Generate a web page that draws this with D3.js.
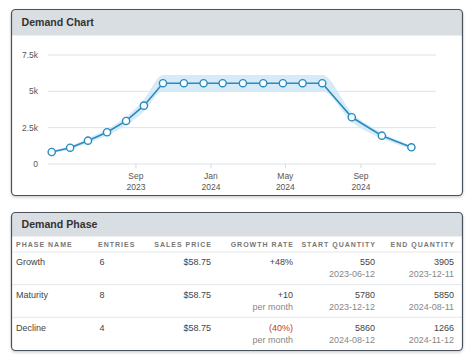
<!DOCTYPE html>
<html><head><meta charset="utf-8">
<script src="https://cdn.jsdelivr.net/npm/d3@7"></script>
<style>
html,body{margin:0;padding:0;background:#fff;}
svg{display:block;font-family:"Liberation Sans",Arial,Helvetica,sans-serif;}
</style></head>
<body>
<svg id="c" width="474" height="361"></svg>
<script>
// ---- Chart data ----
const pointDates = ["2023-04-17","2023-05-17","2023-06-15","2023-07-16","2023-08-16","2023-09-14",
  "2023-10-15","2023-11-18","2023-12-20","2024-01-20","2024-02-22","2024-03-26","2024-04-27","2024-05-29",
  "2024-06-30","2024-08-17","2024-10-05","2024-11-22"];
const pointValues = [826,1123,1605,2183,2961,4015,5560,5560,5560,5560,5560,5560,5560,5560,5560,3216,1949,1150];
const yTickValues = [0,2500,5000,7500];
const yTickLabels = ["0","2.5k","5k","7.5k"];
const xTickDates = ["2023-09-01","2024-01-01","2024-05-01","2024-09-01"];
const xTickMonths = ["Sep","Jan","May","Sep"];
const xTickYears = ["2023","2024","2024","2024"];
const xDomain = ["2023-04-11","2025-01-01"];

// ---- Table data ----
const tableHeaders = ["PHASE NAME","ENTRIES","SALES PRICE","GROWTH RATE","START QUANTITY","END QUANTITY"];
const phaseNames = ["Growth","Maturity","Decline"];
const phaseEntries = ["6","8","4"];
const salesPrices = ["$58.75","$58.75","$58.75"];
const growthRates = ["+48%","+10","(40%)"];
const growthUnits = ["","per month","per month"];
const startQuantities = ["550","5780","5860"];
const startDates = ["2023-06-12","2023-12-12","2024-08-12"];
const endQuantities = ["3905","5850","1266"];
const endDates = ["2023-12-11","2024-08-11","2024-11-12"];

const svg = d3.select("#c");
const parse = d3.timeParse("%Y-%m-%d");
const defs = svg.append("defs");
const f = defs.append("filter").attr("id","sh").attr("x","-5%").attr("y","-5%").attr("width","110%").attr("height","120%");
f.append("feDropShadow").attr("dx",0).attr("dy",1.5).attr("stdDeviation",1.5).attr("flood-color","#000").attr("flood-opacity",0.25);

function card(x,y,w,h,hh,title){
  const g = svg.append("g");
  g.append("rect").attr("x",x).attr("y",y).attr("width",w).attr("height",h).attr("rx",4)
    .attr("fill","#fff").attr("filter","url(#sh)");
  const cp = "cp"+y;
  defs.append("clipPath").attr("id",cp).append("rect").attr("x",x).attr("y",y).attr("width",w).attr("height",h).attr("rx",4);
  g.append("rect").attr("x",x).attr("y",y).attr("width",w).attr("height",hh).attr("fill","#d9dee3").attr("clip-path","url(#"+cp+")");
  g.append("text").attr("x",x+10).attr("y",y+hh/2+3.8).attr("font-size",10.6).attr("font-weight","bold").attr("fill","#333").text(title);
  return g;
}
function border(x,y,w,h){
  svg.append("rect").attr("x",x).attr("y",y).attr("width",w).attr("height",h).attr("rx",4)
    .attr("fill","none").attr("stroke","#4a525b").attr("stroke-width",1.2);
}

// ---- Card 1: chart ----
card(11.5,9.5,451,186,26,"Demand Chart");

const x = d3.scaleTime().domain(xDomain.map(parse)).range([48,436]);
const y = d3.scaleLinear().domain([0,7500]).range([164,55]);

const gy = svg.append("g");
yTickValues.forEach((v,i)=>{
  gy.append("line").attr("x1",48).attr("x2",436).attr("y1",y(v)).attr("y2",y(v)).attr("stroke","#dde3e9").attr("stroke-width",1);
  gy.append("text").attr("x",38).attr("y",y(v)+3).attr("text-anchor","end").attr("font-size",8.5).attr("fill","#555").text(yTickLabels[i]);
});
const gx = svg.append("g");
xTickDates.forEach((d,i)=>{
  const xx = x(parse(d));
  gx.append("line").attr("x1",xx).attr("x2",xx).attr("y1",164).attr("y2",168).attr("stroke","#d5dbe0");
  gx.append("text").attr("x",xx).attr("y",179).attr("text-anchor","middle").attr("font-size",8.5).attr("fill","#555").text(xTickMonths[i]);
  gx.append("text").attr("x",xx).attr("y",189.5).attr("text-anchor","middle").attr("font-size",8.5).attr("fill","#555").text(xTickYears[i]);
});

const pts = pointDates.map((d,i)=>({d:parse(d), v:pointValues[i]}));
const area = d3.area().x(p=>x(p.d)).y0(p=>y(p.v*0.9)).y1(p=>y(p.v*1.1)).curve(d3.curveMonotoneX);
svg.append("path").datum(pts).attr("d",area).attr("fill","#cfe7f6").attr("opacity",0.85);
const line = d3.line().x(p=>x(p.d)).y(p=>y(p.v));
svg.append("path").datum(pts).attr("d",line).attr("fill","none").attr("stroke","#2a8bbf").attr("stroke-width",1.6);
svg.selectAll("circle.pt").data(pts).enter().append("circle").attr("class","pt")
  .attr("cx",p=>x(p.d)).attr("cy",p=>y(p.v)).attr("r",3.6)
  .attr("fill","#fff").attr("stroke","#2a8bbf").attr("stroke-width",1.4);

border(11.5,9.5,451,186);

// ---- Card 2: table ----
const tx=11.5, ty=212.5, tw=451, th=138;
const t = card(tx,ty,tw,th,24,"Demand Phase");
const colX = [16,98,211,293,375,454];
const colAnchor = ["start","start","end","end","end","end"];
tableHeaders.forEach((h,i)=>{
  t.append("text").attr("x",colAnchor[i]==="end"?colX[i]+1:colX[i]).attr("y",246.5).attr("text-anchor",colAnchor[i])
    .attr("font-size",7).attr("font-weight","bold").attr("letter-spacing",1).attr("fill","#777").text(h);
});
const rowTop = [252,284.7,317.3];
rowTop.forEach(r=>{
  t.append("line").attr("x1",tx).attr("x2",tx+tw).attr("y1",r).attr("y2",r).attr("stroke","#e3e7eb").attr("stroke-width",1);
});
phaseNames.forEach((name,i)=>{
  const b1 = rowTop[i]+13.3, b2 = rowTop[i]+25.3;
  const txt = (xx,yy,s,anchor,color)=>t.append("text").attr("x",xx).attr("y",yy).attr("text-anchor",anchor)
      .attr("font-size",9).attr("fill",color).text(s);
  txt(colX[0],b1,name,"start","#444");
  txt(colX[1]+1.5,b1,phaseEntries[i],"start","#444");
  txt(colX[2],b1,salesPrices[i],"end","#444");
  txt(colX[3],b1,growthRates[i],"end",growthRates[i].startsWith("(")?"#c0392b":"#444");
  if(growthUnits[i]) txt(colX[3],b2,growthUnits[i],"end","#888");
  txt(colX[4],b1,startQuantities[i],"end","#444");
  txt(colX[4],b2,startDates[i],"end","#888");
  txt(colX[5],b1,endQuantities[i],"end","#444");
  txt(colX[5],b2,endDates[i],"end","#888");
});
border(tx,ty,tw,th);
</script>
</body></html>
